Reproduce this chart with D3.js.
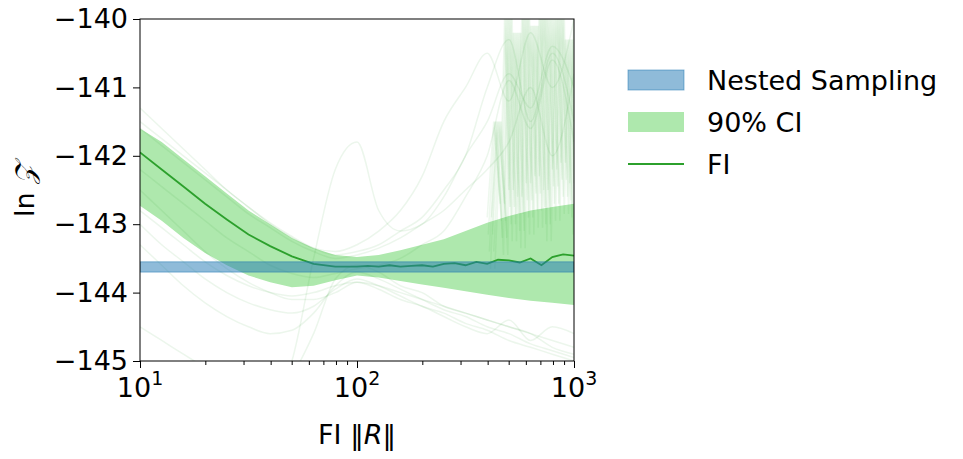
<!DOCTYPE html><html><head><meta charset="utf-8">
<script src="https://cdn.jsdelivr.net/npm/d3@7"></script>
<style>body{margin:0;background:#fff}text{font-family:"DejaVu Sans",sans-serif}</style></head><body>
<svg id="c" width="963" height="459"></svg>
<script>
const gridLog=[1.0,1.1,1.2,1.3,1.4,1.5,1.6,1.7,1.8,1.9,2.0,2.1,2.2,2.3,2.4,2.5,2.6,2.7,2.8,2.9,3.0];
const ciUpper=[-141.6,-141.8,-142.05,-142.3,-142.55,-142.8,-143.0,-143.2,-143.35,-143.45,-143.48,-143.45,-143.38,-143.3,-143.22,-143.1,-142.98,-142.88,-142.8,-142.75,-142.7];
const ciLower=[-142.73,-142.95,-143.2,-143.42,-143.6,-143.75,-143.85,-143.92,-143.9,-143.82,-143.75,-143.78,-143.83,-143.88,-143.93,-143.98,-144.03,-144.08,-144.12,-144.15,-144.18];
const fiLog=[1.0,1.1,1.2,1.3,1.4,1.5,1.6,1.7,1.8,1.9,2.0,2.05,2.1,2.15,2.2,2.25,2.3,2.35,2.4,2.45,2.5,2.55,2.6,2.65,2.7,2.75,2.8,2.85,2.9,2.95,3.0];
const fiVals=[-141.95,-142.2,-142.45,-142.7,-142.93,-143.15,-143.32,-143.47,-143.58,-143.62,-143.62,-143.61,-143.62,-143.6,-143.62,-143.61,-143.6,-143.62,-143.58,-143.57,-143.6,-143.55,-143.58,-143.52,-143.53,-143.56,-143.5,-143.6,-143.48,-143.44,-143.46];
const nested=[-143.55,-143.7];
const faint=[
[-141.3,-141.6,-141.9,-142.2,-142.5,-142.75,-143.0,-143.2,-143.35,-143.4,-143.3,-143.1,-142.8,-142.3,-141.5,-141.0,-140.5,-141.2,-140.2,-141.0,-140.0],
[-141.5,-141.75,-142.0,-142.25,-142.5,-142.75,-142.98,-143.18,-143.35,-143.45,-143.4,-143.3,-143.1,-142.9,-142.5,-142.0,-141.0,-140.3,-141.5,-140.5,-141.5],
[-141.6,-141.85,-142.1,-142.35,-142.6,-142.85,-143.05,-143.25,-143.4,-143.5,-143.45,-143.35,-143.2,-143.0,-142.8,-142.5,-142.2,-141.8,-141.0,-142.0,-140.8],
[-142.8,-143.05,-143.3,-143.55,-143.75,-143.9,-144.0,-144.05,-144.0,-143.9,-143.85,-143.9,-144.0,-144.1,-144.2,-144.3,-144.4,-144.5,-144.6,-144.7,-144.8],
[-143.0,-143.3,-143.55,-143.8,-144.0,-144.15,-144.25,-144.3,-144.2,-143.95,-143.8,-143.9,-144.05,-144.2,-144.3,-144.45,-144.55,-144.7,-144.8,-144.9,-145.0],
[-143.3,-143.6,-143.9,-144.15,-144.35,-144.5,-144.6,-144.55,-144.3,-143.9,-143.7,-143.8,-143.95,-144.1,-144.25,-144.35,-144.5,-144.6,-144.75,-144.85,-144.95],
[-144.5,-144.7,-144.9,-145.1,-145.3,-145.4,-145.4,-145.2,-144.6,-143.8,-143.6,-143.7,-143.9,-144.0,-144.2,-144.3,-144.4,-144.5,-144.6,-144.8,-144.9],
[-145.2,-145.4,-145.6,-145.8,-145.9,-145.9,-145.6,-145.0,-143.5,-142.2,-141.8,-142.8,-143.1,-143.0,-142.6,-142.0,-141.5,-140.8,-141.3,-140.4,-141.0],
[-142.2,-142.45,-142.7,-142.95,-143.2,-143.4,-143.6,-143.72,-143.78,-143.72,-143.65,-143.6,-143.5,-143.3,-143.1,-142.6,-142.0,-140.9,-141.6,-140.6,-141.8],
[-142.5,-142.8,-143.1,-143.4,-143.65,-143.85,-144.0,-144.1,-144.1,-144.0,-143.85,-143.95,-144.1,-144.2,-144.35,-144.5,-144.6,-144.4,-144.7,-144.5,-144.6]
];
const spikeLog=[2.6,2.63,2.66,2.68,2.7,2.72,2.74,2.76,2.78,2.8,2.82,2.84,2.86,2.88,2.9,2.92,2.94,2.96,2.98,3.0];
const spikeVals=[-142.9,-141.5,-142.7,-140.0,-142.5,-140.2,-142.6,-139.9,-142.4,-140.1,-142.3,-139.8,-142.5,-140.0,-142.2,-139.9,-142.1,-140.3,-142.4,-139.8];
const xTicks=[10,100,1000];
const yTicks=[-140,-141,-142,-143,-144,-145];

const svg=d3.select("#c");
const L=140,R=574,T=19,B=361,FS=27;
const x=d3.scaleLog().domain([10,1000]).range([L,R]);
const y=d3.scaleLinear().domain([-145,-140]).range([B,T]);
svg.append("defs").append("clipPath").attr("id","cp").append("rect").attr("x",L).attr("y",T).attr("width",R-L).attr("height",B-T);
const g=svg.append("g").attr("clip-path","url(#cp)");
const p=i=>Math.pow(10,gridLog[i]);
g.append("path").attr("d",d3.area().x((d,i)=>x(p(i))).y0((d,i)=>y(ciLower[i])).y1(d=>y(d))(ciUpper)).attr("fill","#aee8ad");
const ln=d3.line().x((d,i)=>x(p(i))).y(d=>y(d)).curve(d3.curveMonotoneX);
faint.forEach(f=>g.append("path").attr("d",ln(f)).attr("fill","none").attr("stroke","#2ca02c").attr("stroke-opacity",0.09).attr("stroke-width",1.5));
for(let k=0;k<8;k++){
 g.append("path").attr("d",d3.line().x((d,i)=>x(Math.pow(10,spikeLog[i]+k*0.005))).y(d=>y(d))(spikeVals.map((v,i)=>i%2?v:v-0.25*(k%4))))
  .attr("fill","none").attr("stroke","#2ca02c").attr("stroke-opacity",0.08).attr("stroke-width",1.5);
}
g.append("path").attr("d",d3.line().x((d,i)=>x(Math.pow(10,fiLog[i]))).y(d=>y(d))(fiVals)).attr("fill","none").attr("stroke","#2ca02c").attr("stroke-width",1.8);
g.append("rect").attr("x",L).attr("width",R-L).attr("y",y(nested[0])).attr("height",y(nested[1])-y(nested[0])).attr("fill","#1f77b4").attr("fill-opacity",0.5).attr("stroke","#1f77b4").attr("stroke-opacity",0.5);
svg.append("rect").attr("x",L).attr("y",T).attr("width",R-L).attr("height",B-T).attr("fill","none").attr("stroke","#000").attr("stroke-width",1);
svg.append("g").attr("transform",`translate(0,${B})`).call(d3.axisBottom(x).tickValues(xTicks).tickFormat(()=>"").tickSize(7));
const minors=[];for(const dec of [10,100])for(let m=2;m<10;m++)minors.push(dec*m);
svg.append("g").attr("transform",`translate(0,${B})`).call(d3.axisBottom(x).tickValues(minors).tickFormat(()=>"").tickSize(4));
xTicks.forEach(t=>{const tx=svg.append("text").attr("x",x(t)).attr("y",B+36).attr("text-anchor","middle").attr("font-size",FS);
 tx.append("tspan").text("10");tx.append("tspan").attr("dy",-12).attr("font-size",19).text(Math.log10(t));});
svg.append("g").attr("transform",`translate(${L},0)`).call(d3.axisLeft(y).tickValues(yTicks).tickFormat(d=>"\u2212"+Math.abs(d)).tickSize(7)).call(a=>a.selectAll("text").attr("font-size",FS).attr("font-family","DejaVu Sans").attr("dx",-2).attr("fill","#000"));
svg.selectAll(".domain").remove();
const yl=svg.append("text").attr("transform","translate(34,190) rotate(-90)").attr("text-anchor","middle").attr("font-size",FS);
yl.append("tspan").text("ln ");yl.append("tspan").attr("font-style","italic").text("\uD835\uDCB5");
const xl=svg.append("text").attr("x",357).attr("y",444).attr("text-anchor","middle").attr("font-size",FS);
xl.append("tspan").text("FI \u2016");xl.append("tspan").attr("font-style","italic").text("R");xl.append("tspan").text("\u2016");
const lg=svg.append("g");
lg.append("rect").attr("x",628).attr("y",70).attr("width",56).attr("height",20).attr("fill","#1f77b4").attr("fill-opacity",0.5).attr("stroke","#1f77b4").attr("stroke-opacity",0.5);
lg.append("rect").attr("x",628).attr("y",112).attr("width",56).attr("height",20).attr("fill","#aee8ad");
lg.append("line").attr("x1",628).attr("x2",684).attr("y1",164).attr("y2",164).attr("stroke","#2ca02c").attr("stroke-width",1.8);
[["Nested Sampling",90],["90% CI",132],["FI",174]].forEach(([t,yy])=>lg.append("text").attr("x",707).attr("y",yy).attr("font-size",FS).text(t));
</script></body></html>
